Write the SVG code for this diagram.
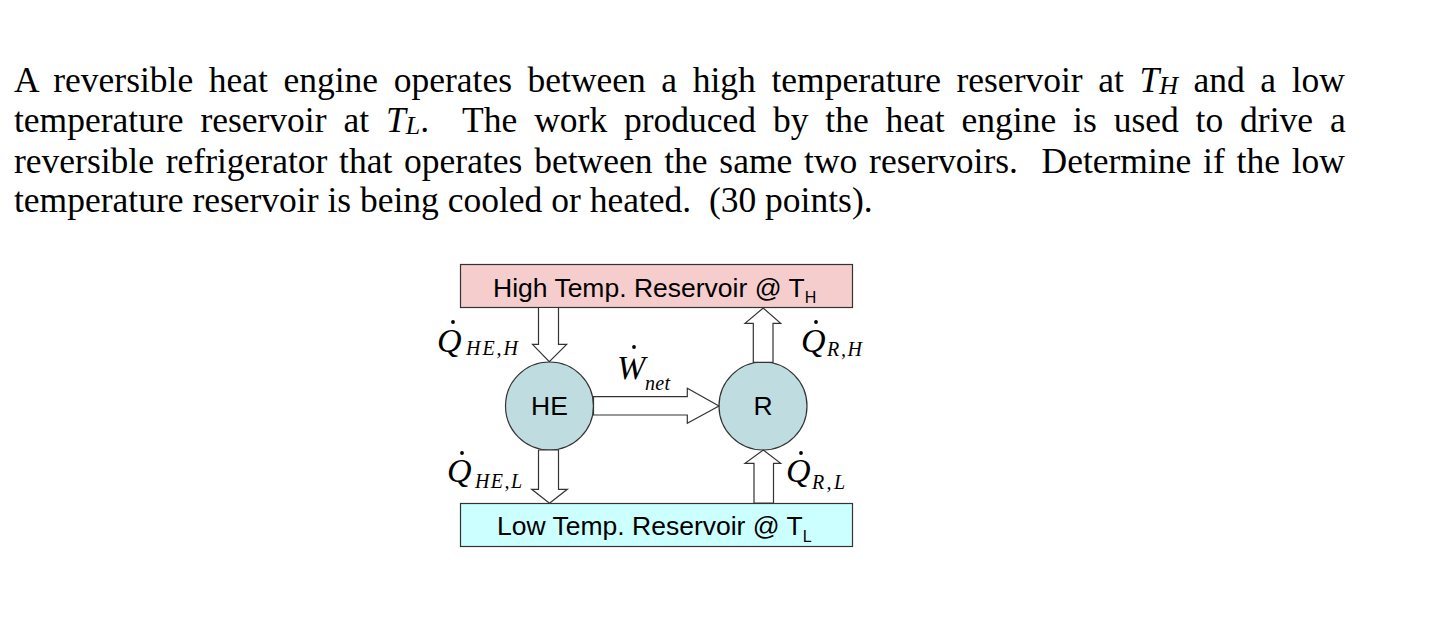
<svg xmlns="http://www.w3.org/2000/svg" width="1446" height="640" viewBox="0 0 1446 640">
<style>
.para{font-family:"Liberation Serif","Times New Roman",serif;font-size:35.5px;fill:#000}
.lab{font-family:"Liberation Sans",Arial,sans-serif;font-size:26.5px;fill:#000}
.math{font-family:"Liberation Serif","Times New Roman",serif;font-style:italic;fill:#000}
.blk{fill:#fff;stroke:#333;stroke-width:1.2}
.node{stroke:#333;stroke-width:1.2}
</style>
<rect width="1446" height="640" fill="#fff"/>
<g id="text">
<text class="para" x="14" y="92" word-spacing="6.7">A reversible heat engine operates between a high temperature reservoir at <tspan font-style="italic">T</tspan><tspan font-style="italic" font-size="26" dy="2">H</tspan><tspan dy="-2"> and a low</tspan></text>
<text class="para" x="14" y="132" word-spacing="8" xml:space="preserve">temperature reservoir at <tspan font-style="italic">T</tspan><tspan font-style="italic" font-size="26" dy="2">L</tspan><tspan dy="-2">.  The work produced by the heat engine is used to drive a</tspan></text>
<text class="para" x="14" y="172.5" word-spacing="2.9" xml:space="preserve">reversible refrigerator that operates between the same two reservoirs.  Determine if the low</text>
<text class="para" x="14" y="212" xml:space="preserve">temperature reservoir is being cooled or heated.  (30 points).</text>
</g>
<g id="high-reservoir">
<rect x="460.5" y="264.5" width="392" height="43" fill="#F6CDCD" class="node"/>
<text class="lab" x="493" y="297">High Temp. Reservoir @ T<tspan font-size="16" dy="6">H</tspan></text>
</g>
<g id="low-reservoir">
<rect x="460.5" y="503.5" width="392" height="43" fill="#CCFFFF" class="node"/>
<text class="lab" x="497" y="535">Low Temp. Reservoir @ T<tspan font-size="16" dy="7">L</tspan></text>
</g>
<g id="HE">
<circle cx="549.5" cy="406" r="44" fill="#BFDDE0" class="node"/>
<text class="lab" x="549.5" y="415" text-anchor="middle">HE</text>
</g>
<g id="R">
<circle cx="763" cy="406" r="44" fill="#BFDDE0" class="node"/>
<text class="lab" x="763" y="415" text-anchor="middle">R</text>
</g>
<g id="connectors">
<polygon class="blk" points="538.5,307.5 558.5,307.5 558.5,344.3 566.7,344.3 549.3,361.7 532.5,344.3 538.5,344.3"/>
<polygon class="blk" points="753.3,362.3 773,362.3 773,323.3 780.7,323.3 763.2,308 745,323.3 753.3,323.3"/>
<polygon class="blk" points="538.5,450 558.5,450 558.5,489.3 567.3,489.3 549.5,503.3 531.7,489.3 538.5,489.3"/>
<polygon class="blk" points="754,503 773.5,503 773.5,463.3 780.7,463.3 763.3,450 745,463.3 754,463.3"/>
<polygon class="blk" points="593.5,396.7 687.3,396.7 687.3,388.3 719,406 687.3,423.3 687.3,415 593.5,415"/>
</g>
<g id="labels">
<text class="math" x="437" y="352" font-size="34">Q</text>
<circle cx="453" cy="322" r="1.9" fill="#000"/>
<text class="math" x="466" y="355" font-size="20" textLength="52" lengthAdjust="spacing">HE,H</text>
<text class="math" x="801" y="352" font-size="34">Q</text>
<circle cx="816" cy="322" r="1.9" fill="#000"/>
<text class="math" x="827" y="356" font-size="20" textLength="35" lengthAdjust="spacing">R,H</text>
<text class="math" x="617" y="379" font-size="34">W</text>
<circle cx="634" cy="347" r="1.9" fill="#000"/>
<text class="math" x="645" y="390" font-size="20" textLength="25" lengthAdjust="spacing">net</text>
<text class="math" x="447" y="482" font-size="34">Q</text>
<circle cx="462" cy="453" r="1.9" fill="#000"/>
<text class="math" x="475" y="488" font-size="20" textLength="47" lengthAdjust="spacing">HE,L</text>
<text class="math" x="786" y="482" font-size="34">Q</text>
<circle cx="801" cy="453" r="1.9" fill="#000"/>
<text class="math" x="812" y="489" font-size="20" textLength="33" lengthAdjust="spacing">R,L</text>
</g>
</svg>
